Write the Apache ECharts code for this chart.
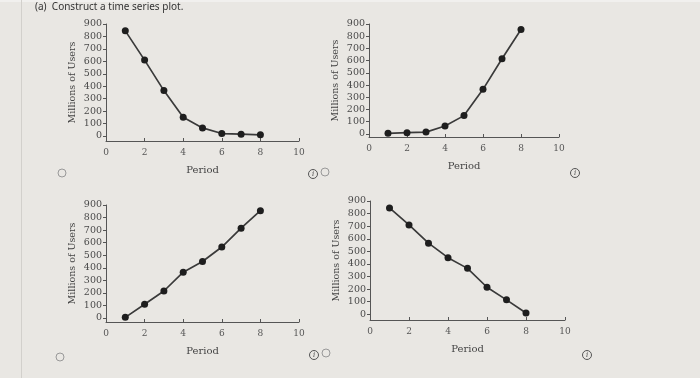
<!DOCTYPE html>
<html>
<head>
<meta charset="utf-8">
<script src="https://cdn.jsdelivr.net/npm/echarts@6/dist/echarts.min.js"></script>
<style>
html,body{margin:0;padding:0;background:#e9e7e3;}
#c{width:700px;height:378px;}
</style>
</head>
<body>
<div id="c"></div>
<script>
// Data
const periods = [1, 2, 3, 4, 5, 6, 7, 8];
const usersA = [845, 610, 365, 150, 65, 20, 15, 10];   // top-left
const usersB = [5, 10, 15, 65, 150, 365, 615, 855];    // top-right
const usersC = [5, 110, 215, 365, 450, 565, 715, 855]; // bottom-left
const usersD = [845, 710, 565, 450, 365, 215, 115, 10]; // bottom-right
const yTicks = [0, 100, 200, 300, 400, 500, 600, 700, 800, 900];
const xTicks = [0, 2, 4, 6, 8, 10];
const titleText = "(a)  Construct a time series plot.";
const xName = "Period";
const yName = "Millions of Users";

const grids = [
  {left: 106, top: 24, width: 193, height: 117, ymin: -40},
  {left: 369, top: 24, width: 190, height: 113, ymin: -25},
  {left: 106, top: 205, width: 193, height: 117, ymin: -32},
  {left: 370, top: 201, width: 195, height: 119, ymin: -45}
];
const datasets = [usersA, usersB, usersC, usersD];

const axisColor = '#555';
const serif = '"DejaVu Serif", "Liberation Serif", serif';

const option = {
  backgroundColor: '#e9e7e3',
  animation: false,
  grid: grids.map(g => ({left: g.left, top: g.top, width: g.width, height: g.height})),
  xAxis: grids.map((g, i) => ({
    type: 'value', gridIndex: i, min: 0, max: 10, interval: 2,
    name: xName, nameLocation: 'middle', nameGap: 24,
    nameTextStyle: {fontFamily: serif, fontSize: 10, color: '#444'},
    axisLine: {show: true, onZero: false, lineStyle: {color: axisColor, width: 1}},
    axisTick: {show: true, length: 3, inside: true, lineStyle: {color: axisColor}},
    splitLine: {show: false},
    axisLabel: {customValues: xTicks, fontFamily: serif, fontSize: 9, color: '#555', margin: 7}
  })),
  yAxis: grids.map((g, i) => ({
    type: 'value', gridIndex: i, min: g.ymin, max: 900,
    name: yName, nameLocation: 'middle', nameGap: 28, nameRotate: 90,
    nameTextStyle: {fontFamily: serif, fontSize: 9.5, color: '#444'},
    axisLine: {show: true, lineStyle: {color: axisColor, width: 1}},
    axisTick: {show: true, customValues: yTicks, length: 3, lineStyle: {color: axisColor}},
    splitLine: {show: false},
    axisLabel: {customValues: yTicks, fontFamily: serif, fontSize: 9.5, color: '#4a4a4a', margin: 4}
  })),
  series: datasets.map((d, i) => ({
    type: 'line', xAxisIndex: i, yAxisIndex: i,
    data: periods.map((p, k) => [p, d[k]]),
    symbol: 'circle', symbolSize: 7,
    lineStyle: {color: '#3a3a3a', width: 1.7},
    itemStyle: {color: '#1e1e1e'}
  })),
  graphic: [
    {type: 'rect', shape: {x: 0, y: 0, width: 700, height: 2}, style: {fill: '#f1f0ee'}},
    {type: 'line', shape: {x1: 21.5, y1: 0, x2: 21.5, y2: 378}, style: {stroke: '#d2d0cc', lineWidth: 1}},
    {type: 'text', left: 35, top: 2, style: {text: titleText, font: '10px "Noto Sans", sans-serif', fill: '#333'}},
    // radio buttons
    {type: 'circle', shape: {cx: 62, cy: 173, r: 4}, style: {fill: 'none', stroke: '#999', lineWidth: 1}},
    {type: 'circle', shape: {cx: 325, cy: 172, r: 4}, style: {fill: 'none', stroke: '#999', lineWidth: 1}},
    {type: 'circle', shape: {cx: 60, cy: 357, r: 4}, style: {fill: 'none', stroke: '#999', lineWidth: 1}},
    {type: 'circle', shape: {cx: 326, cy: 353, r: 4}, style: {fill: 'none', stroke: '#999', lineWidth: 1}},
    // info icons
    {type: 'circle', shape: {cx: 313, cy: 174, r: 4.5}, style: {fill: 'none', stroke: '#555', lineWidth: 1}},
    {type: 'text', x: 313, y: 174, style: {text: 'i', font: 'italic 7px "DejaVu Serif"', fill: '#444', align: 'center', verticalAlign: 'middle'}},
    {type: 'circle', shape: {cx: 575, cy: 173, r: 4.5}, style: {fill: 'none', stroke: '#555', lineWidth: 1}},
    {type: 'text', x: 575, y: 173, style: {text: 'i', font: 'italic 7px "DejaVu Serif"', fill: '#444', align: 'center', verticalAlign: 'middle'}},
    {type: 'circle', shape: {cx: 314, cy: 355, r: 4.5}, style: {fill: 'none', stroke: '#555', lineWidth: 1}},
    {type: 'text', x: 314, y: 355, style: {text: 'i', font: 'italic 7px "DejaVu Serif"', fill: '#444', align: 'center', verticalAlign: 'middle'}},
    {type: 'circle', shape: {cx: 587, cy: 355, r: 4.5}, style: {fill: 'none', stroke: '#555', lineWidth: 1}},
    {type: 'text', x: 587, y: 355, style: {text: 'i', font: 'italic 7px "DejaVu Serif"', fill: '#444', align: 'center', verticalAlign: 'middle'}}
  ]
};
const chart = echarts.init(document.getElementById('c'), null, {renderer: 'canvas'});
chart.setOption(option);
</script>
</body>
</html>
